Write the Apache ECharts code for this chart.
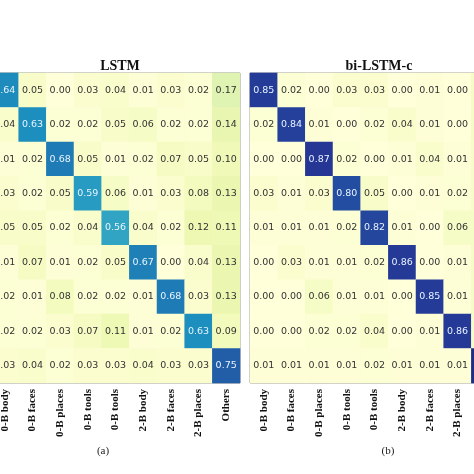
<!DOCTYPE html>
<html>
<head>
<meta charset="utf-8">
<script src="https://cdn.jsdelivr.net/npm/echarts@6/dist/echarts.min.js"></script>
<style>
html,body{margin:0;padding:0;width:474px;height:474px;overflow:hidden;background:#fff;}
#main{position:absolute;left:-9px;top:0;width:530px;height:474px;}
</style>
</head>
<body>
<div id="main"></div>
<script>
var classes = ['0-B body','0-B faces','0-B places','0-B tools','0-B tools','2-B body','2-B faces','2-B places','Others'];

var lstm = [
  [0.64,0.05,0.00,0.03,0.04,0.01,0.03,0.02,0.17],
  [0.04,0.63,0.02,0.02,0.05,0.06,0.02,0.02,0.14],
  [0.01,0.02,0.68,0.05,0.01,0.02,0.07,0.05,0.10],
  [0.03,0.02,0.05,0.59,0.06,0.01,0.03,0.08,0.13],
  [0.05,0.05,0.02,0.04,0.56,0.04,0.02,0.12,0.11],
  [0.01,0.07,0.01,0.02,0.05,0.67,0.00,0.04,0.13],
  [0.02,0.01,0.08,0.02,0.02,0.01,0.68,0.03,0.13],
  [0.02,0.02,0.03,0.07,0.11,0.01,0.02,0.63,0.09],
  [0.03,0.04,0.02,0.03,0.03,0.04,0.03,0.03,0.75]
];

var biLstm = [
  [0.85,0.02,0.00,0.03,0.03,0.00,0.01,0.00,0.06],
  [0.02,0.84,0.01,0.00,0.02,0.04,0.01,0.00,0.06],
  [0.00,0.00,0.87,0.02,0.00,0.01,0.04,0.01,0.05],
  [0.03,0.01,0.03,0.80,0.05,0.00,0.01,0.02,0.05],
  [0.01,0.01,0.01,0.02,0.82,0.01,0.00,0.06,0.06],
  [0.00,0.03,0.01,0.01,0.02,0.86,0.00,0.01,0.06],
  [0.00,0.00,0.06,0.01,0.01,0.00,0.85,0.01,0.06],
  [0.00,0.00,0.02,0.02,0.04,0.00,0.01,0.86,0.05],
  [0.01,0.01,0.01,0.01,0.02,0.01,0.01,0.01,0.91]
];

function cells(m) {
  var out = [];
  m.forEach(function (row, i) {
    row.forEach(function (v, j) {
      out.push({value: [j, i, v], label: {color: v > 0.5 ? '#e8f4ff' : '#333'}});
    });
  });
  return out;
}

var serif = '"Liberation Serif", "DejaVu Serif", serif';
var grids = [
  {left: 0, top: 73, width: 249, height: 310},
  {left: 259, top: 73, width: 249, height: 310}
];

function xAx(i) {
  return {
    type: 'category', gridIndex: i, data: classes,
    axisTick: {show: false}, axisLine: {show: false}, splitLine: {show: false},
    axisLabel: {rotate: 90, interval: 0, margin: 6, color: '#111', fontFamily: serif, fontWeight: 'bold', fontSize: 11}
  };
}
function yAx(i) {
  return {
    type: 'category', gridIndex: i, data: classes, inverse: true,
    axisTick: {show: false}, axisLine: {show: false}, axisLabel: {show: false}
  };
}
function hm(i, m) {
  return {
    type: 'heatmap', xAxisIndex: i, yAxisIndex: i, data: cells(m),
    label: {show: true, fontSize: 9.5, fontFamily: '"DejaVu Sans", sans-serif',
      formatter: function (p) { return p.value[2].toFixed(2); }},
    itemStyle: {borderWidth: 0}
  };
}

var chart = echarts.init(document.getElementById('main'));
chart.setOption({
  animation: false,
  grid: grids.map(function (g) { return Object.assign({show: true, borderColor: '#888', borderWidth: 1, backgroundColor: 'transparent'}, g); }),
  title: [
    {text: 'LSTM', left: 124, top: 54, textAlign: 'center', textStyle: {fontFamily: serif, fontWeight: 'bold', fontSize: 14, color: '#111'}},
    {text: 'bi-LSTM-c', left: 383, top: 54, textAlign: 'center', textStyle: {fontFamily: serif, fontWeight: 'bold', fontSize: 14, color: '#111'}},
    {text: '(a)', left: 107, top: 441, textAlign: 'center', textStyle: {fontFamily: serif, fontWeight: 'normal', fontSize: 11, color: '#222'}},
    {text: '(b)', left: 392, top: 441, textAlign: 'center', textStyle: {fontFamily: serif, fontWeight: 'normal', fontSize: 11, color: '#222'}}
  ],
  visualMap: {
    show: false, min: 0, max: 1, seriesIndex: [0, 1], dimension: 2,
    inRange: {color: ['#ffffd9','#edf8b1','#c7e9b4','#7fcdbb','#41b6c4','#1d91c0','#225ea8','#253494','#081d58']}
  },
  xAxis: [xAx(0), xAx(1)],
  yAxis: [yAx(0), yAx(1)],
  series: [hm(0, lstm), hm(1, biLstm)]
});
</script>
</body>
</html>
